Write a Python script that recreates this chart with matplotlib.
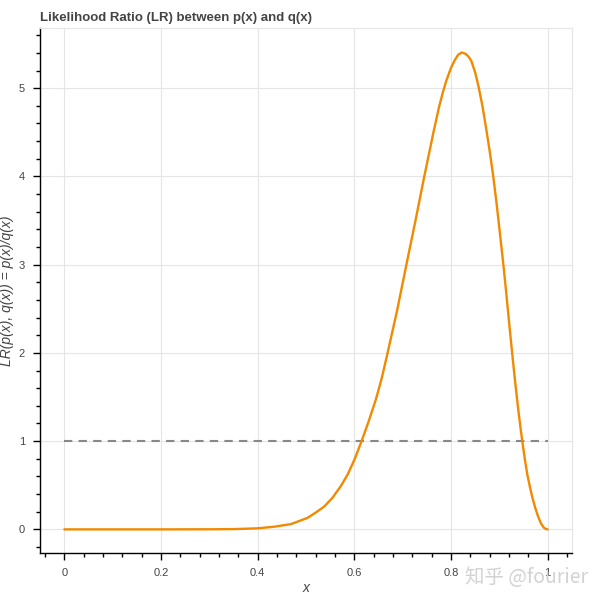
import matplotlib.pyplot as plt
from matplotlib.ticker import MultipleLocator, FuncFormatter

plt.rcParams['font.family'] = ['Liberation Sans', 'DejaVu Sans']

# valeurs
x_vals = [0.0, 0.1, 0.2, 0.3, 0.35, 0.4, 0.434, 0.469, 0.503, 0.520, 0.538,
          0.555, 0.572, 0.586, 0.601, 0.615, 0.630, 0.645, 0.657, 0.668, 0.6885,
          0.707, 0.7258, 0.744, 0.7645, 0.775, 0.783, 0.790, 0.800, 0.808, 0.815,
          0.8225, 0.830, 0.836, 0.842, 0.850, 0.857, 0.865, 0.872, 0.880, 0.887,
          0.894, 0.901, 0.908, 0.914, 0.920, 0.926, 0.933, 0.940, 0.947, 0.953,
          0.958, 0.963, 0.968, 0.974, 0.980, 0.986, 0.992, 0.997, 1.0]
lr_vals = [0.0, 0.0, 0.0, 0.001, 0.003, 0.012, 0.03, 0.06, 0.13, 0.19, 0.26,
           0.36, 0.49, 0.62, 0.80, 1.0, 1.23, 1.48, 1.72, 1.98, 2.48,
           2.98, 3.48, 3.98, 4.52, 4.78, 4.95, 5.08, 5.23, 5.32, 5.38,
           5.405, 5.39, 5.36, 5.31, 5.18, 5.02, 4.80, 4.57, 4.29, 4.02,
           3.71, 3.37, 3.02, 2.70, 2.36, 2.03, 1.66, 1.32, 1.02, 0.79,
           0.62, 0.49, 0.37, 0.25, 0.15, 0.07, 0.02, 0.003, 0.0]
ref_x = [0.0, 1.0]
ref_y = [1.0, 1.0]

fig = plt.figure(figsize=(6, 6), dpi=100)
ax = fig.add_axes([0.067, 0.078, 0.886, 0.875])

ax.plot(x_vals, lr_vals, color='#f18a00', lw=1.7, solid_joinstyle='round',
        solid_capstyle='round', zorder=3)
ax.plot(ref_x, ref_y, color='#888888', lw=1.5, dashes=(4, 3), zorder=2)

ax.set_xlim(-0.05, 1.05)
ax.set_ylim(-0.27, 5.68)

ax.xaxis.set_major_locator(MultipleLocator(0.2))
ax.xaxis.set_minor_locator(MultipleLocator(0.04))
ax.yaxis.set_major_locator(MultipleLocator(1))
ax.yaxis.set_minor_locator(MultipleLocator(0.2))
ax.xaxis.set_major_formatter(FuncFormatter(lambda v, p: '%g' % round(v, 2)))

ax.grid(True, which='major', color='#e5e5e5', lw=0.8)
ax.set_axisbelow(True)

for s in ['top', 'right']:
    ax.spines[s].set_color('#e5e5e5')
    ax.spines[s].set_linewidth(0.8)
for s in ['left', 'bottom']:
    ax.spines[s].set_color('black')
    ax.spines[s].set_linewidth(1.0)

ax.tick_params(which='major', direction='out', length=5, width=1, color='black',
               labelsize=8, labelcolor='#444444', pad=6)
ax.tick_params(which='minor', direction='out', length=3, width=1, color='black')

ax.set_xlabel('x', fontsize=10, style='italic', color='#444444', labelpad=2)
ax.set_ylabel('LR(p(x), q(x)) = p(x)/q(x)', fontsize=10, style='italic',
              color='#444444')
ax.yaxis.set_label_coords(-0.049, 0.5)
ax.set_title('Likelihood Ratio (LR) between p(x) and q(x)', loc='left',
             fontsize=9.5, fontweight='bold', color='#444444', pad=5)

# filigrane
fig.text(0.775, 0.038, '知乎 @fourier', fontsize=14, color='#d2d2d2',
         family=['Noto Sans CJK SC', 'DejaVu Sans'], va='center')

fig.savefig('out.png', dpi=100)
